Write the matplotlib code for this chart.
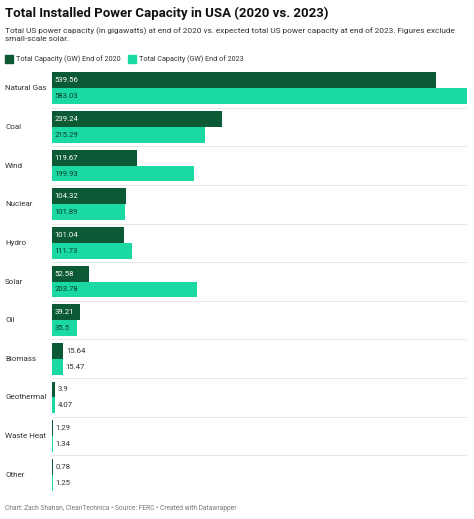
import matplotlib
matplotlib.use("Agg")
import matplotlib.pyplot as plt

categories = ["Natural Gas","Coal","Wind","Nuclear","Hydro","Solar","Oil","Biomass","Geothermal","Waste Heat","Other"]
cap2020 = [539.56,239.24,119.67,104.32,101.04,52.58,39.21,15.64,3.9,1.29,0.78]
cap2023 = [583.03,215.29,199.93,101.89,111.73,203.78,35.5,15.47,4.07,1.34,1.25]
labels2020 = ["539.56","239.24","119.67","104.32","101.04","52.58","39.21","15.64","3.9","1.29","0.78"]
labels2023 = ["583.03","215.29","199.93","101.89","111.73","203.78","35.5","15.47","4.07","1.34","1.25"]

W, H = 474, 519
fig = plt.figure(figsize=(W/100, H/100), dpi=100)
plt.rcParams['font.family'] = ['Roboto', 'DejaVu Sans']
dark = "#0b5a35"; light = "#1ad9a3"

fig.text(5/W, 1-13/H, "Total Installed Power Capacity in USA (2020 vs. 2023)", fontsize=9.5, fontweight="bold", va="center", color="#111")
fig.text(5/W, 1-35/H, "Total US power capacity (in gigawatts) at end of 2020 vs. expected total US power capacity at end of 2023. Figures exclude\nsmall-scale solar.", fontsize=5.95, va="center", color="#333", linespacing=1.25)
fig.patches.append(plt.Rectangle((5/W, 1-63/H), 8/W, 8/H, transform=fig.transFigure, color=dark))
fig.text(16/W, 1-59/H, "Total Capacity (GW) End of 2020", fontsize=5.2, va="center", color="#333")
fig.patches.append(plt.Rectangle((128/W, 1-63/H), 8/W, 8/H, transform=fig.transFigure, color=light))
fig.text(139/W, 1-59/H, "Total Capacity (GW) End of 2023", fontsize=5.2, va="center", color="#333")
fig.text(5/W, 1-508/H, "Chart: Zach Shahan, CleanTechnica • Source: FERC • Created with Datawrapper", fontsize=4.8, va="center", color="#777")

top, bot = 1-69/H, 1-494/H
ax = fig.add_axes([52/W, bot, (467-52)/W, top-bot])
n = len(categories)
ax.set_xlim(0, 583.03); ax.set_ylim(n-0.5, -0.5)
bh = 0.41
for i in range(n):
    ax.barh(i-bh/2, cap2020[i], height=bh, color=dark)
    ax.barh(i+bh/2, cap2023[i], height=bh, color=light)
    for v, lab, y, c in [(cap2020[i], labels2020[i], i-bh/2, "white"), (cap2023[i], labels2023[i], i+bh/2, "#0b3d25")]:
        if v > 25:
            ax.text(4, y, lab, fontsize=5.6, va="center", color=c)
        else:
            ax.text(v+4, y, lab, fontsize=5.6, va="center", color="#333")
    fig.text(5/W, ax.transData.transform((0, i))[1]/fig.dpi/ (H/100), categories[i], fontsize=5.8, va="center", color="#333")
    if i < n-1:
        ax.axhline(i+0.5, color="#e3e3e3", lw=0.6)
for s in ax.spines.values(): s.set_visible(False)
ax.set_xticks([]); ax.set_yticks([])
fig.savefig("out.png", dpi=100)
